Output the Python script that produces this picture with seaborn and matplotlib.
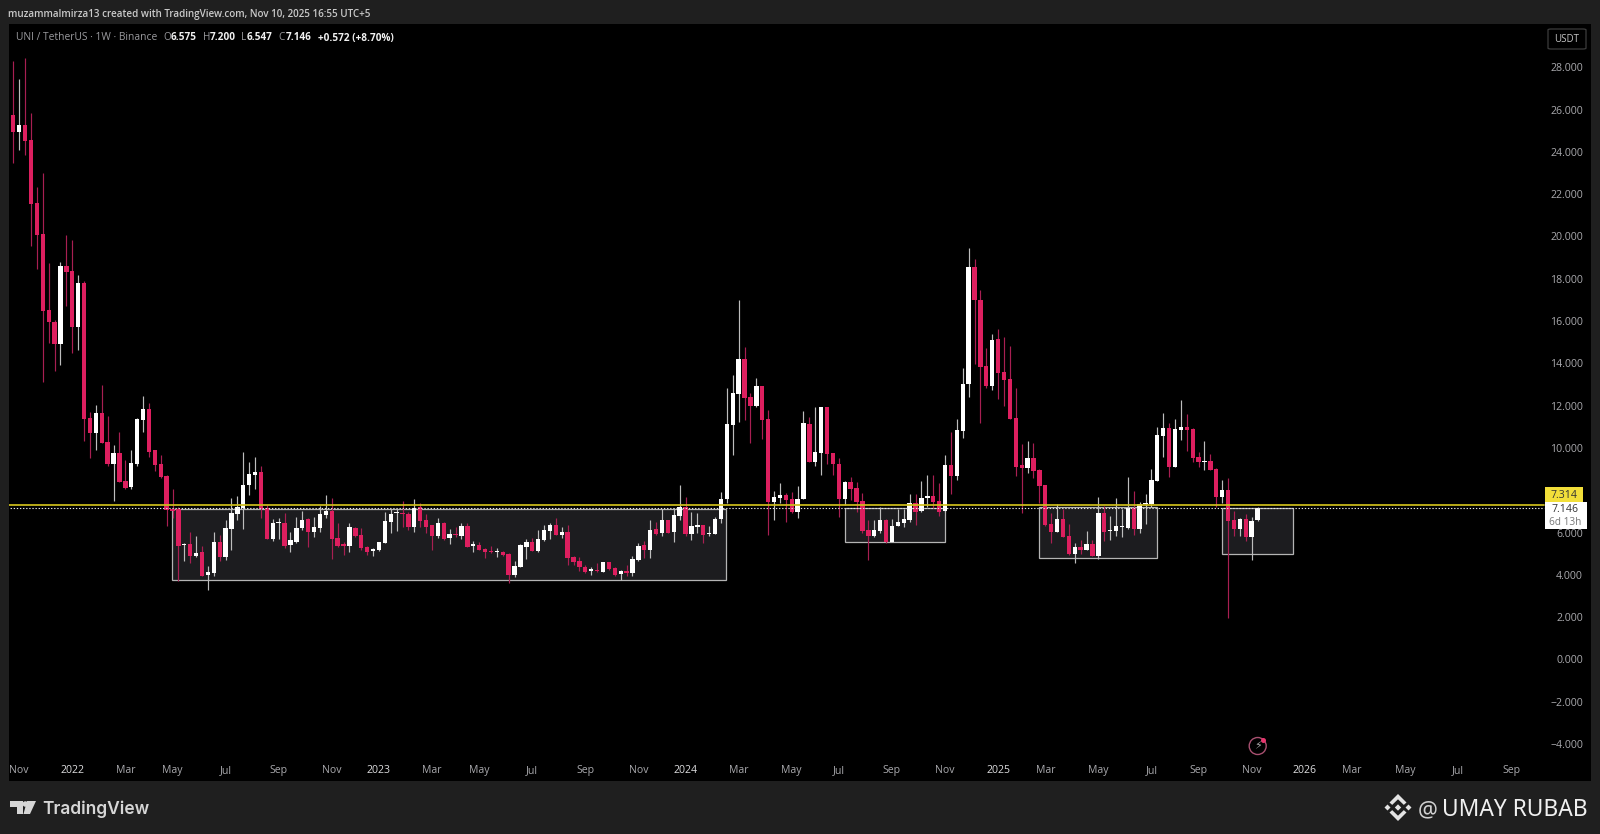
import matplotlib
matplotlib.use("Agg")
import matplotlib.pyplot as plt
from matplotlib.patches import Rectangle, Polygon, Ellipse, FancyBboxPatch
import numpy as np
import pandas as pd
import seaborn as sns

highs = [28.30,27.43,28.45,25.85,22.32,23.01,18.73,16.05,18.78,20.07,
 19.83,18.16,17.91,11.71,12.02,12.96,11.50,10.13,10.77,9.43,
 9.92,11.40,12.46,12.14,9.90,9.67,8.72,8.05,7.19,5.51,
 6.04,5.84,5.38,4.43,6.04,5.87,6.59,7.65,7.73,9.79,
 9.32,9.59,9.15,7.30,6.66,6.69,6.94,6.04,6.75,7.02,
 6.70,6.72,7.26,7.76,7.65,6.44,5.57,6.47,6.25,6.22,
 5.36,5.26,5.57,6.96,7.10,7.10,7.49,6.99,7.59,7.38,
 6.88,6.36,6.67,6.51,6.15,6.28,6.44,6.44,5.62,5.57,
 5.25,5.36,5.27,5.14,5.02,4.66,5.44,5.68,5.76,6.12,
 6.34,6.44,6.67,6.28,6.34,4.89,4.86,4.47,4.39,4.58,
 4.62,4.62,4.36,4.23,4.47,4.89,5.49,5.59,6.59,6.51,
 7.10,6.60,7.18,8.25,7.67,6.96,6.91,6.36,6.31,6.75,
 7.93,12.85,13.45,17.00,14.79,12.60,13.29,12.93,11.80,7.97,
 8.33,7.86,7.92,8.20,11.76,11.48,11.95,11.95,11.95,9.78,
 9.51,8.46,8.65,8.41,7.86,6.60,6.60,7.22,6.63,6.63,
 7.12,7.12,7.83,7.83,8.44,8.72,8.72,8.33,9.67,10.74,
 11.35,13.76,19.44,18.93,17.47,14.75,15.39,15.61,15.23,14.82,
 12.82,10.18,10.33,10.22,9.03,8.25,6.91,7.35,7.10,6.43,
 5.53,5.65,6.07,5.65,7.69,7.27,6.78,7.65,7.10,8.64,
 7.96,7.46,7.82,9.03,10.97,11.67,11.16,11.37,12.27,11.61,
 10.93,9.81,10.33,9.71,9.04,8.49,8.56,7.03,6.67,6.86,
 6.75,7.20]
body_tops = [25.74,25.28,25.28,24.55,21.58,20.10,16.53,15.97,18.62,18.62,
 18.37,17.80,17.81,11.42,11.65,11.65,10.28,9.75,9.76,8.44,
 9.29,11.37,11.86,11.86,9.89,9.24,8.67,7.10,7.10,5.45,
 5.45,5.05,5.07,4.15,5.55,5.55,6.22,6.91,7.21,8.26,
 8.77,8.86,8.85,7.15,6.45,6.49,6.45,5.63,6.22,6.59,
 6.64,6.25,6.88,7.03,7.03,5.76,5.45,6.26,6.22,5.89,
 5.32,5.22,5.54,6.55,6.88,6.97,6.94,6.88,7.16,7.19,
 6.60,6.34,6.45,6.47,5.93,5.93,6.30,6.31,5.46,5.43,
 5.22,5.13,5.13,5.10,4.99,4.43,5.40,5.55,5.55,5.68,
 6.12,6.37,6.37,6.04,6.04,4.84,4.66,4.39,4.26,4.23,
 4.59,4.59,4.31,4.18,4.18,4.73,5.38,5.40,6.12,6.17,
 6.58,6.58,6.83,7.21,7.22,6.31,6.36,6.34,5.96,6.66,
 7.60,11.12,12.62,14.21,14.21,12.40,12.93,12.93,11.37,7.70,
 7.78,7.79,7.57,7.60,11.17,11.15,9.79,11.95,11.95,9.76,
 9.26,8.39,8.39,8.12,7.49,6.12,6.12,6.60,6.60,6.33,
 6.50,6.63,7.38,7.38,7.65,7.73,7.73,7.49,9.18,9.18,
 10.85,13.02,18.57,18.57,17.02,13.87,15.10,15.15,13.59,13.26,
 11.40,9.18,9.54,9.55,8.97,8.23,6.39,6.65,6.65,5.83,
 5.30,5.31,5.47,5.47,6.91,6.91,6.12,6.29,6.31,7.14,
 7.17,7.35,7.38,8.48,10.61,10.94,10.94,10.90,10.99,10.99,
 10.90,9.59,9.38,9.38,9.00,8.01,8.01,6.59,6.62,6.62,
 6.53,7.146]
body_bots = [24.93,24.93,24.51,21.53,20.05,16.48,15.94,14.92,14.92,18.33,
 15.73,15.73,11.37,10.71,10.71,10.23,9.24,9.26,8.40,8.09,
 8.15,9.26,11.32,9.80,9.19,8.64,7.07,7.03,5.38,5.41,
 4.89,4.89,3.96,4.00,4.10,4.83,4.83,6.17,6.88,7.16,
 8.26,8.72,7.10,5.68,5.68,6.45,5.36,5.40,5.57,6.20,
 6.04,6.04,6.22,6.83,5.71,5.38,5.38,5.35,5.84,5.26,
 5.08,5.11,5.18,5.51,6.50,6.92,6.88,6.28,6.28,6.55,
 6.28,5.84,5.84,5.70,5.73,5.87,5.84,5.33,5.37,5.18,
 5.07,5.08,5.08,4.94,3.98,3.98,4.39,5.33,5.13,5.11,
 5.63,6.09,5.89,5.89,4.81,4.61,4.36,4.15,4.18,4.17,
 4.15,4.26,3.98,4.03,4.10,4.07,4.69,5.18,5.18,5.95,
 5.96,5.99,6.01,6.78,5.92,5.93,6.28,5.90,5.93,5.93,
 6.64,7.59,11.09,12.55,12.35,11.99,11.99,11.32,7.45,7.45,
 7.65,7.54,6.99,6.99,7.59,9.34,9.34,9.76,9.72,9.23,
 7.57,7.57,8.06,7.45,6.09,5.84,5.84,6.09,5.57,5.57,
 6.31,6.44,6.60,6.99,7.00,7.62,7.45,6.99,7.00,8.68,
 8.67,10.81,13.02,16.99,13.83,12.93,12.93,13.56,13.21,11.35,
 9.10,9.05,9.05,8.92,8.20,6.34,6.04,6.04,5.79,5.01,
 5.01,5.17,5.17,4.90,4.89,6.04,6.09,6.09,6.28,6.24,
 6.17,6.18,7.33,7.35,8.45,10.57,9.10,9.10,10.86,10.86,
 9.54,9.34,9.35,8.96,7.70,7.70,6.56,6.17,6.17,5.79,
 5.79,6.575]
lows = [23.49,24.09,23.85,19.56,18.46,13.13,14.96,13.64,13.92,16.71,
 14.50,14.63,10.34,9.51,9.92,10.22,9.16,7.51,8.38,8.07,
 8.07,9.16,10.74,9.59,8.91,8.57,6.32,6.69,3.71,4.67,
 4.54,4.86,3.94,3.28,3.95,4.66,4.70,5.18,6.59,6.17,
 7.78,8.06,6.70,5.68,5.62,5.70,5.27,5.10,5.52,6.12,
 5.33,5.80,6.04,6.67,4.74,5.33,4.94,5.10,5.80,5.18,
 4.94,4.89,5.14,5.49,5.96,6.09,6.28,6.12,6.04,6.28,
 5.96,5.18,5.73,5.65,5.46,5.81,5.68,5.30,5.10,5.18,
 4.78,5.02,4.86,4.89,3.63,3.92,4.36,4.73,5.11,5.08,
 5.62,5.68,5.89,5.73,4.48,4.47,4.18,4.07,4.00,4.15,
 4.14,4.23,3.95,3.76,3.95,3.95,4.67,4.78,4.80,5.89,
 5.85,5.96,5.57,6.59,5.85,5.65,5.96,5.52,5.85,5.92,
 6.47,7.40,9.67,11.25,11.32,10.25,11.92,10.43,5.89,6.60,
 7.38,6.48,6.94,6.71,7.57,9.34,9.15,8.72,9.23,8.72,
 6.75,7.30,7.54,6.99,5.97,4.70,5.81,5.99,5.52,5.55,
 6.29,6.25,6.52,6.36,6.99,7.19,7.15,6.78,6.99,7.82,
 8.48,10.45,12.39,13.97,11.19,12.86,12.74,12.34,11.99,11.35,
 8.67,6.91,8.83,8.56,7.38,6.31,5.49,6.02,5.77,4.94,
 4.54,5.01,5.17,4.89,4.73,5.61,5.65,5.85,5.77,6.18,
 5.88,6.00,6.43,7.22,8.45,9.59,8.64,9.10,10.38,9.87,
 9.35,9.08,8.96,8.96,7.22,7.38,1.98,5.84,5.84,5.60,
 4.70,6.547]
directions = list(
 "rwrrrrrrwr" "rwrrwrrwrr" "wwwrrrrrrw" "rwrwwrwwww" "wwrrwwrwww"
 "rwwwrrrwrr" "rwwwwwrrwr" "rrwrwrwrwr" "rrwrrwwwrw" "wwrwrrrrwr"
 "wrrwrwwrwr" "wrwwrwwrww" "wwwwrrwrrw" "wrrwwrwwrr" "rwrrrrwwrw"
 "wwwrwwrrwr" "wwwrrrwrrr" "rrwrrrrwrr" "wrwrwrwwww" "rwwwwwrwwr"
 "rrwrrwrrwr" "ww")

x_tick_weeks = [1,10,19,27,36,45,54,62,71,79,88,97,106,114,123,132,140,149,
                158,167,175,184,193,201,210,219,227,236,245,254]
x_tick_labels = ["Nov","2022","Mar","May","Jul","Sep","Nov","2023","Mar","May","Jul","Sep",
                 "Nov","2024","Mar","May","Jul","Sep","Nov","2025","Mar","May","Jul","Sep",
                 "Nov","2026","Mar","May","Jul","Sep"]
price_ticks = [28,26,24,22,20,18,16,14,12,10,6,4,2,0,-2,-4]
box_lefts = [26.9,141.1,174.0,205.0]
box_rights = [120.85,157.95,193.95,216.95]
box_tops = [7.10,7.16,7.22,7.15]
box_bottoms = [3.77,5.54,4.78,4.98]
resistance_price = 7.314
last_price = 7.146

W, H = 1600, 834
BG = "#1f1f1f"
RED = "#dd1f5f"
RED_WICK = "#a81f52"
WHITE = "#ffffff"
WHITE_WICK = "#bdbdbd"
GRAY = "#a9a9ad"

sns.set_theme(style="dark", rc={"axes.facecolor": "black", "figure.facecolor": BG,
                                "axes.grid": False, "axes.edgecolor": "black"})
plt.rcParams["font.family"] = ["Open Sans", "DejaVu Sans"]

fig = plt.figure(figsize=(W / 100, H / 100), dpi=100, facecolor=BG)
ax = fig.add_axes([9 / W, 1 - 781 / H, (1591 - 9) / W, (781 - 24) / H])

def fx(x): return x / W
def fy(y): return 1 - y / H

df = pd.DataFrame({"week": np.arange(len(highs)), "high": highs, "top": body_tops,
                   "bot": body_bots, "low": lows, "dir": directions})
df["height"] = df["top"] - df["bot"]

# zones
for l, r, t, b in zip(box_lefts, box_rights, box_tops, box_bottoms):
    ax.add_patch(Rectangle((l, b), r - l, t - b, facecolor="#1c1c1f", edgecolor="#b4b4b4",
                           linewidth=0.9, zorder=1))

# wicks
for key, c in (("r", RED_WICK), ("w", WHITE_WICK)):
    sub = df[df["dir"] == key]
    ax.vlines(sub["week"], sub["low"], sub["high"], color=c, linewidth=0.85, zorder=2)

# bodies
for key, c in (("r", RED), ("w", WHITE)):
    sub = df[df["dir"] == key]
    sns.barplot(data=sub, x="week", y="height", bottom=sub["bot"].to_numpy(), native_scale=True,
                color=c, saturation=1, errorbar=None, width=0.74, linewidth=0, ax=ax, zorder=3)

# level lines
right_week = (1544 - 13.3) / 5.897
ax.plot([-1, right_week], [resistance_price] * 2, color="#cfbf1c", lw=1.25, zorder=4)
ax.plot([-1, right_week], [last_price] * 2, color="#e8e8e8", lw=0.8, ls=(0, (1.2, 1.6)), zorder=4)

ax.set_xlim((9 - 13.3) / 5.897, (1591 - 13.3) / 5.897)
ax.set_ylim(31.182 - 781 / 21.15, 31.182 - 24 / 21.15)
ax.set_xlabel("")
ax.set_ylabel("")
ax.yaxis.tick_right()
ax.set_yticks(price_ticks)
ax.set_yticklabels([f"{v:.3f}".replace("-", "\u2212") for v in price_ticks], ha="right",
                   va="center_baseline", color=GRAY, fontsize=7.6)
ax.tick_params(axis="y", length=0, pad=-5.8)
ax.set_xticks(x_tick_weeks)
ax.set_xticklabels(x_tick_labels, fontsize=7.6)
ax.tick_params(axis="x", length=0, pad=-11.3)
for lab, txt in zip(ax.get_xticklabels(), x_tick_labels):
    lab.set_color("#dcdcde" if txt.isdigit() else GRAY)
for s in ax.spines.values():
    s.set_visible(False)

# header and legend
fig.text(fx(8.5), fy(14.5), "muzammalmirza13 created with TradingView.com, Nov 10, 2025 16:55 UTC+5",
         color="#c9c9c9", fontsize=7.15, va="center", fontweight="semibold")
fig.text(fx(15.5), fy(38), "UNI / TetherUS · 1W · Binance", color="#9a9a9e", fontsize=7.4, va="center")
for x, s, c, w in [(163.5, "O", "#9a9a9e", "normal"), (170.5, "6.575", "#f0f0f0", "bold"),
                   (202.5, "H", "#9a9a9e", "normal"), (209.5, "7.200", "#f0f0f0", "bold"),
                   (241.5, "L", "#9a9a9e", "normal"), (246.5, "6.547", "#f0f0f0", "bold"),
                   (278.5, "C", "#9a9a9e", "normal"), (285.5, "7.146", "#f0f0f0", "bold"),
                   (318, "+0.572 (+8.70%)", "#f0f0f0", "bold")]:
    fig.text(fx(x), fy(38), s, color=c, fontsize=7.2, fontweight=w, va="center")

# USDT button
fig.add_artist(FancyBboxPatch((fx(1548), fy(49)), 38 / W, 20 / H, boxstyle="round,pad=0,rounding_size=0.002",
                              transform=fig.transFigure, facecolor="black", edgecolor="#3c3c3c", lw=0.9,
                              mutation_aspect=H / W))
fig.text(fx(1567), fy(40), "USDT", color="#c4c4c4", fontsize=7, ha="center", va="center")

# price labels
fig.add_artist(Rectangle((fx(1545), fy(502)), 38 / W, 14.7 / H, transform=fig.transFigure,
                         facecolor="#f2df3a", edgecolor="none"))
fig.text(fx(1564), fy(495.6), "7.314", color="#333333", fontsize=7.6, ha="center", va="center")
fig.add_artist(Rectangle((fx(1545), fy(528.7)), 42.3 / W, 26.7 / H, transform=fig.transFigure,
                         facecolor="#ffffff", edgecolor="none"))
fig.text(fx(1564.5), fy(510), "7.146", color="#333333", fontsize=7.6, ha="center", va="center")
fig.text(fx(1565.5), fy(522.5), "6d 13h", color="#777777", fontsize=7.2, ha="center", va="center")

# lightning icon
fig.add_artist(Ellipse((fx(1257.7), fy(746)), 17 / W, 17 / H, transform=fig.transFigure,
                       facecolor="none", edgecolor="#a85070", lw=1.0))
fig.add_artist(Ellipse((fx(1263.5), fy(740.5)), 5 / W, 5 / H, transform=fig.transFigure,
                       facecolor="#e8356d", edgecolor="none"))
fig.text(fx(1257.5), fy(746.5), "\u26a1", color="#a8a8a8", fontsize=8, ha="center", va="center",
         family="DejaVu Sans")

# TradingView logo
LOGO = "#d6d6d6"
for pts in ([(10, 801), (22.5, 801), (22.5, 814), (16.5, 814), (16.5, 807), (10, 807)],
            [(27, 801), (36, 801), (30, 814), (23.5, 814)]):
    fig.add_artist(Polygon([(fx(a), fy(b)) for a, b in pts], transform=fig.transFigure,
                           facecolor=LOGO, edgecolor="none"))
fig.add_artist(Ellipse((fx(25.3), fy(804)), 5.5 / W, 5.5 / H, transform=fig.transFigure,
                       facecolor=LOGO, edgecolor="none"))
fig.text(fx(42.5), fy(809), "TradingView", color=LOGO, fontsize=12.5, va="center",
         family="Inter", fontweight="semibold")

# Binance-style mark and watermark
cx, cy = 1398, 807.5
def diamond(x, y, r):
    return [(x - r, y), (x, y - r), (x + r, y), (x, y + r)]
for d in (diamond(cx, cy, 3.2), diamond(cx - 10.5, cy, 3), diamond(cx + 10.5, cy, 3)):
    fig.add_artist(Polygon([(fx(a), fy(b)) for a, b in d], transform=fig.transFigure,
                           facecolor="#e4e4e4", edgecolor="none"))
for sgn in (-1, 1):
    pts = [(cx, cy + sgn * 13.5), (cx + 8.5, cy + sgn * 5), (cx + 5.8, cy + sgn * 2.6), (cx, cy + sgn * 8.2),
           (cx - 5.8, cy + sgn * 2.6), (cx - 8.5, cy + sgn * 5)]
    fig.add_artist(Polygon([(fx(a), fy(b)) for a, b in pts], transform=fig.transFigure,
                           facecolor="#e4e4e4", edgecolor="none"))
fig.text(fx(1417.5), fy(810.5), "@", color="#d0d0d0", fontsize=16, va="center", family="Noto Sans")
fig.text(fx(1442), fy(810.5), "UMAY RUBAB", color="#f0f0f0", fontsize=16.4, va="center", family="Noto Sans")

fig.savefig("out.png", dpi=100, facecolor=BG)
